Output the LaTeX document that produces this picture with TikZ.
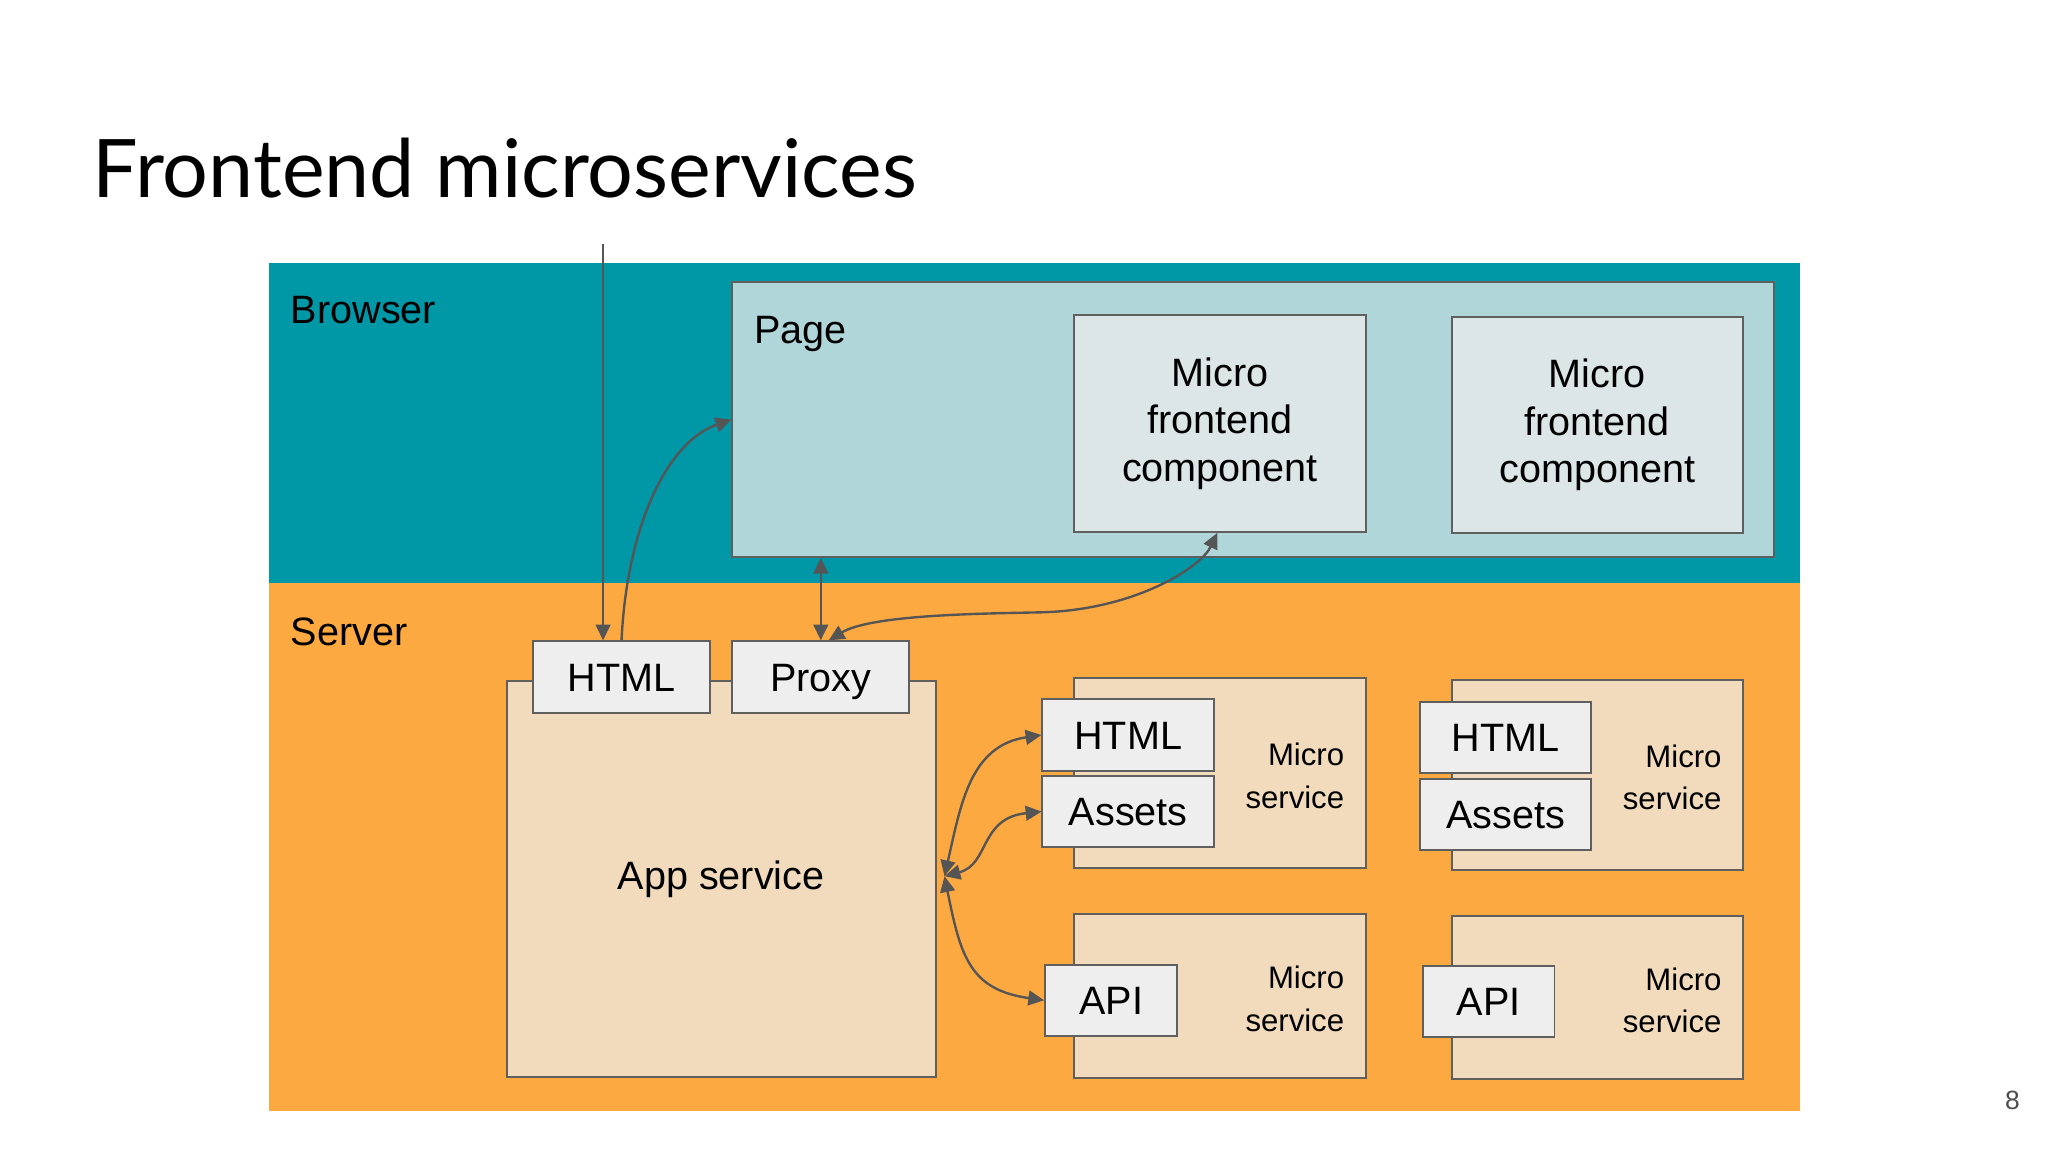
\documentclass[tikz,border=0pt]{standalone}
\usepackage{fontspec}
\setmainfont{Liberation Sans}
\newfontfamily\titlefont{Lato}
\usetikzlibrary{arrows.meta}
\definecolor{teal}{HTML}{0097A7}
\definecolor{orng}{HTML}{FDA941}
\definecolor{pagefill}{HTML}{B1D6DA}
\definecolor{mfcfill}{HTML}{DCE6E7}
\definecolor{wheatfill}{HTML}{F2DBBC}
\definecolor{lightbox}{HTML}{EEEEEE}
\definecolor{edge}{HTML}{5F5F5F}
\definecolor{arrowgray}{HTML}{555555}
\tikzset{
  bx/.style={draw=edge, line width=0.75pt, inner sep=0pt, align=center, text=black},
  pagebox/.style={bx, fill=pagefill},
  mfcbox/.style={bx, fill=mfcfill, font=\fontsize{15}{18}\selectfont, minimum width=110.5pt, minimum height=82pt},
  svcbox/.style={bx, fill=wheatfill},
  msbox/.style={svcbox, minimum width=110.5pt},
  smallbox/.style={bx, fill=lightbox, font=\fontsize{15}{18}\selectfont, minimum height=27pt, text height=10.7pt, text depth=0pt},
  mslabel/.style={font=\fontsize{11.8}{16}\selectfont, align=right, anchor=east, inner sep=0pt},
  zonelabel/.style={font=\fontsize{15}{18}\selectfont, anchor=base west, inner sep=0pt},
  arr/.style={draw=arrowgray, line width=0.9pt, -{Triangle[length=6pt,width=5.6pt]}},
  arrtwo/.style={draw=arrowgray, line width=0.9pt, {Triangle[length=6pt,width=5.6pt]}-{Triangle[length=6pt,width=5.6pt]}}
}
\begin{document}
\begin{tikzpicture}[x=0.5pt,y=-0.5pt]
\useasboundingbox (0,0) rectangle (1552,873);
\fill[white] (0,0) rectangle (1552,873);
% title
\node[anchor=base west, inner sep=0pt, font=\titlefont\fontsize{30.6}{36}\selectfont] (title) at (70,150) {Frontend microservices};
% zones
\fill[teal] (204,199) rectangle (1364,442);
\fill[orng] (204,442) rectangle (1364,842);
\node[zonelabel] (browserlbl) at (220,245) {Browser};
\node[zonelabel] (serverlbl) at (220,489) {Server};
% page
\node[pagebox, minimum width=394.5pt, minimum height=104pt] (page) at (949.5,318) {};
\node[zonelabel] (pagelbl) at (571,260) {Page};
\node[mfcbox] (mfc1) at (924.5,321) {Micro\\frontend\\component};
\node[mfcbox] (mfc2) at (1210.5,322) {Micro\\frontend\\component};
% app service
\node[svcbox, minimum width=162.5pt, minimum height=150pt, font=\fontsize{15}{18}\selectfont] (app) at (546.5,666) {App service};
\node[smallbox, minimum width=67pt] (htmlA) at (471,513) {HTML};
\node[smallbox, minimum width=67pt] (proxy) at (622,513) {Proxy};
% micro services
\node[msbox, minimum height=72pt] (ms1) at (924.5,586) {};
\node[mslabel] (ms1lbl) at (1019,588) {Micro\\service};
\node[smallbox, minimum width=65pt] (h1) at (855,557) {HTML};
\node[smallbox, minimum width=65pt] (a1) at (855,615) {Assets};
\node[msbox, minimum height=72pt] (ms2) at (1210.5,587) {};
\node[mslabel] (ms2lbl) at (1305,589) {Micro\\service};
\node[smallbox, minimum width=65pt] (h2) at (1141,559) {HTML};
\node[smallbox, minimum width=65pt] (a2) at (1141,617) {Assets};
\node[msbox, minimum height=62pt] (ms3) at (924.5,755) {};
\node[mslabel] (ms3lbl) at (1019,757) {Micro\\service};
\node[smallbox, minimum width=50pt] (api1) at (842,758) {API};
\node[msbox, minimum height=62pt] (ms4) at (1210.5,756) {};
\node[mslabel] (ms4lbl) at (1305,758) {Micro\\service};
\node[smallbox, minimum width=50pt] (api2) at (1128,759) {API};
% page number
\node[anchor=base, inner sep=0pt, font=\fontsize{10}{12}\selectfont, text=black!70] (pnum) at (1525,841) {8};
% connectors
\coordinate (topin) at (457,185);
\draw[arr] (topin) -- (topin |- htmlA.north);
\draw[arr] (htmlA.north) .. controls (475,400) and (505,335) .. (page.west);
\draw[arrtwo] (proxy.north) -- (proxy.north |- page.south);
\coordinate (mid) at (790,464);
\draw[arrtwo] ([xshift=3pt]proxy.north) .. controls (660,466) and (740,465) .. (mid) .. controls (860,462) and (910,430) .. ([xshift=-1pt]mfc1.south);
\coordinate (appport) at ([xshift=3pt,yshift=1pt]app.east);
\draw[arrtwo] (appport) .. controls (728,610) and (735,565) .. (h1.west);
\draw[arrtwo] (appport) .. controls (750,655) and (742,620) .. (a1.west);
\draw[arrtwo] (appport) .. controls (728,725) and (735,750) .. (api1.west);
\end{tikzpicture}
\end{document}
